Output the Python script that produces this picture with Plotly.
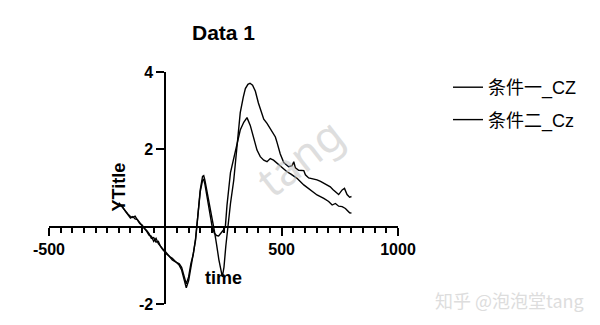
import plotly.graph_objects as go

# ---------------- data ----------------
x1 = [-200, -185, -170, -160, -150, -140, -130, -120, -110, -100, -90, -80, -70, -60, -50, -40, -30, -20, -10,
      0, 10, 20, 30, 40, 50, 60, 70, 80, 90, 100, 110, 120, 130, 140, 150, 160, 165, 170, 180, 190, 200,
      210, 220, 230, 245, 252, 260, 268, 280, 294, 308, 322, 335, 344, 355, 364, 375, 387, 400, 410, 423,
      437, 450, 459, 473, 480, 494, 509, 530, 545, 552, 559, 573, 595, 602, 616, 635, 652, 667, 681, 695,
      709, 720, 731, 745, 760, 770, 781, 792, 800]
y1 = [0.62, 0.50, 0.40, 0.32, 0.26, 0.24, 0.27, 0.16, 0.08, 0.04, -0.03, -0.12, -0.22, -0.25, -0.38, -0.30,
      -0.44, -0.50, -0.58, -0.68, -0.74, -0.78, -0.82, -0.88, -0.94, -1.00, -1.12, -1.35, -1.58, -1.40, -1.05,
      -0.80, -0.35, 0.30, 0.95, 1.30, 1.32, 1.20, 0.90, 0.55, 0.22, -0.08, -0.45, -0.85, -1.30, -1.05, -0.50,
      0.00, 0.60, 1.20, 2.10, 2.95, 3.35, 3.57, 3.68, 3.71, 3.66, 3.50, 3.20, 3.00, 2.78, 2.67, 2.55, 2.45,
      2.32, 2.18, 1.88, 1.66, 1.55, 1.58, 1.68, 1.52, 1.46, 1.45, 1.34, 1.26, 1.24, 1.21, 1.17, 1.12, 1.08,
      1.03, 0.96, 0.90, 0.83, 0.95, 0.99, 0.83, 0.76, 0.78]

x2 = [-200, -185, -170, -160, -150, -140, -130, -120, -110, -100, -90, -80, -70, -60, -50, -40, -30, -20, -10,
      0, 10, 20, 30, 40, 50, 60, 70, 80, 90, 100, 110, 120, 130, 140, 150, 160, 165, 170, 180, 190, 200,
      210, 220, 229, 238, 248, 258, 265, 280, 294, 308, 322, 337, 351, 365, 380, 394, 408, 423, 437, 451,
      465, 480, 495, 509, 523, 540, 566, 595, 623, 652, 681, 702, 717, 731, 745, 760, 774, 792, 800]
y2 = [0.60, 0.52, 0.38, 0.30, 0.22, 0.26, 0.20, 0.18, 0.10, 0.02, -0.05, -0.10, -0.18, -0.30, -0.28, -0.40,
      -0.38, -0.52, -0.60, -0.64, -0.72, -0.80, -0.86, -0.90, -0.92, -0.96, -1.05, -1.25, -1.48, -1.30, -0.95,
      -0.72, -0.30, 0.30, 0.90, 1.20, 1.22, 1.10, 0.75, 0.38, 0.04, -0.16, -0.23, -0.24, -0.18, -0.10, 0.00,
      0.55, 1.40, 1.75, 2.15, 2.50, 2.70, 2.82, 2.62, 2.32, 1.98, 1.81, 1.72, 1.68, 1.76, 1.72, 1.64, 1.58,
      1.51, 1.42, 1.36, 1.25, 1.08, 0.95, 0.82, 0.73, 0.65, 0.56, 0.60, 0.53, 0.52, 0.47, 0.36, 0.35]

names = ["条件一_CZ", "条件二_Cz"]
x_tickvals = [-500, 0, 500, 1000]
x_ticktext = ["-500", "", "500", "1000"]
y_tickvals = [-2, 0, 2, 4]
y_ticktext = ["-2", "", "2", "4"]
title_text = "Data 1"
x_title = "time"
y_title = "YTitle"

FONT = "Liberation Sans, Arial, Noto Sans CJK SC, sans-serif"

fig = go.Figure()
for xs, ys, nm, grp in [(x1, y1, names[0], "a"), (x2, y2, names[1], "b")]:
    fig.add_trace(go.Scatter(x=xs, y=ys, mode="lines", name=nm, legendgroup=grp,
                             line=dict(color="black", width=1.4)))

fig.update_layout(
    width=600, height=325,
    margin=dict(l=49, r=202, t=72, b=21),
    paper_bgcolor="white", plot_bgcolor="white",
    font=dict(family=FONT, color="black"),
    title=dict(text=title_text, x=0.5, xref="paper", y=1 - 33 / 325, yanchor="middle",
               font=dict(size=21, weight="bold", family=FONT)),
    showlegend=True,
    legend=dict(x=(448 - 49) / 349, y=(304 - 69) / 232, xanchor="left", yanchor="top",
                font=dict(size=18, family=FONT), bgcolor="rgba(0,0,0,0)",
                tracegroupgap=6, traceorder="grouped"),
)

fig.update_xaxes(range=[-500, 1000], showgrid=False, zeroline=False,
                 showline=True, linecolor="black", linewidth=2,
                 anchor="free", position=1 / 3,
                 tickmode="array", tickvals=x_tickvals, ticktext=x_ticktext,
                 ticks="outside", ticklen=8, tickwidth=2, tickcolor="black",
                 tickfont=dict(size=16, weight="bold", family=FONT),
                 minor=dict(tickmode="linear", tick0=0, dtick=50, ticks="outside",
                            ticklen=5, tickwidth=2, tickcolor="black"))
fig.update_yaxes(range=[-2, 4], showgrid=False, zeroline=False,
                 showline=True, linecolor="black", linewidth=2,
                 anchor="free", position=1 / 3,
                 tickmode="array", tickvals=y_tickvals, ticktext=y_ticktext,
                 ticks="outside", ticklen=8, tickwidth=2, tickcolor="black",
                 tickfont=dict(size=16, weight="bold", family=FONT))

# axis titles
fig.add_annotation(text=x_title, xref="x", yref="y", x=248, y=-1.32, showarrow=False,
                   xanchor="center", yanchor="middle",
                   font=dict(size=18, weight="bold", family=FONT))
fig.add_annotation(text=y_title, xref="x", yref="y", x=-198, y=1.02, showarrow=False,
                   textangle=-90, xanchor="center", yanchor="middle",
                   font=dict(size=18, weight="bold", family=FONT))

# watermarks
fig.add_annotation(text="tang", xref="paper", yref="paper", x=(299 - 49) / 349, y=(304 - 157) / 232,
                   showarrow=False, textangle=-38, xanchor="center", yanchor="middle",
                   font=dict(size=44, color="rgba(190,190,190,0.5)", family="Noto Sans, sans-serif"))
fig.add_annotation(text="知乎 @泡泡堂tang", xref="paper", yref="paper", x=(586 - 49) / 349,
                   y=(304 - 300) / 232, showarrow=False, xanchor="right", yanchor="middle",
                   font=dict(size=18, color="#dddddd", family="Noto Sans CJK SC, sans-serif"))

fig.write_html("out.html")
